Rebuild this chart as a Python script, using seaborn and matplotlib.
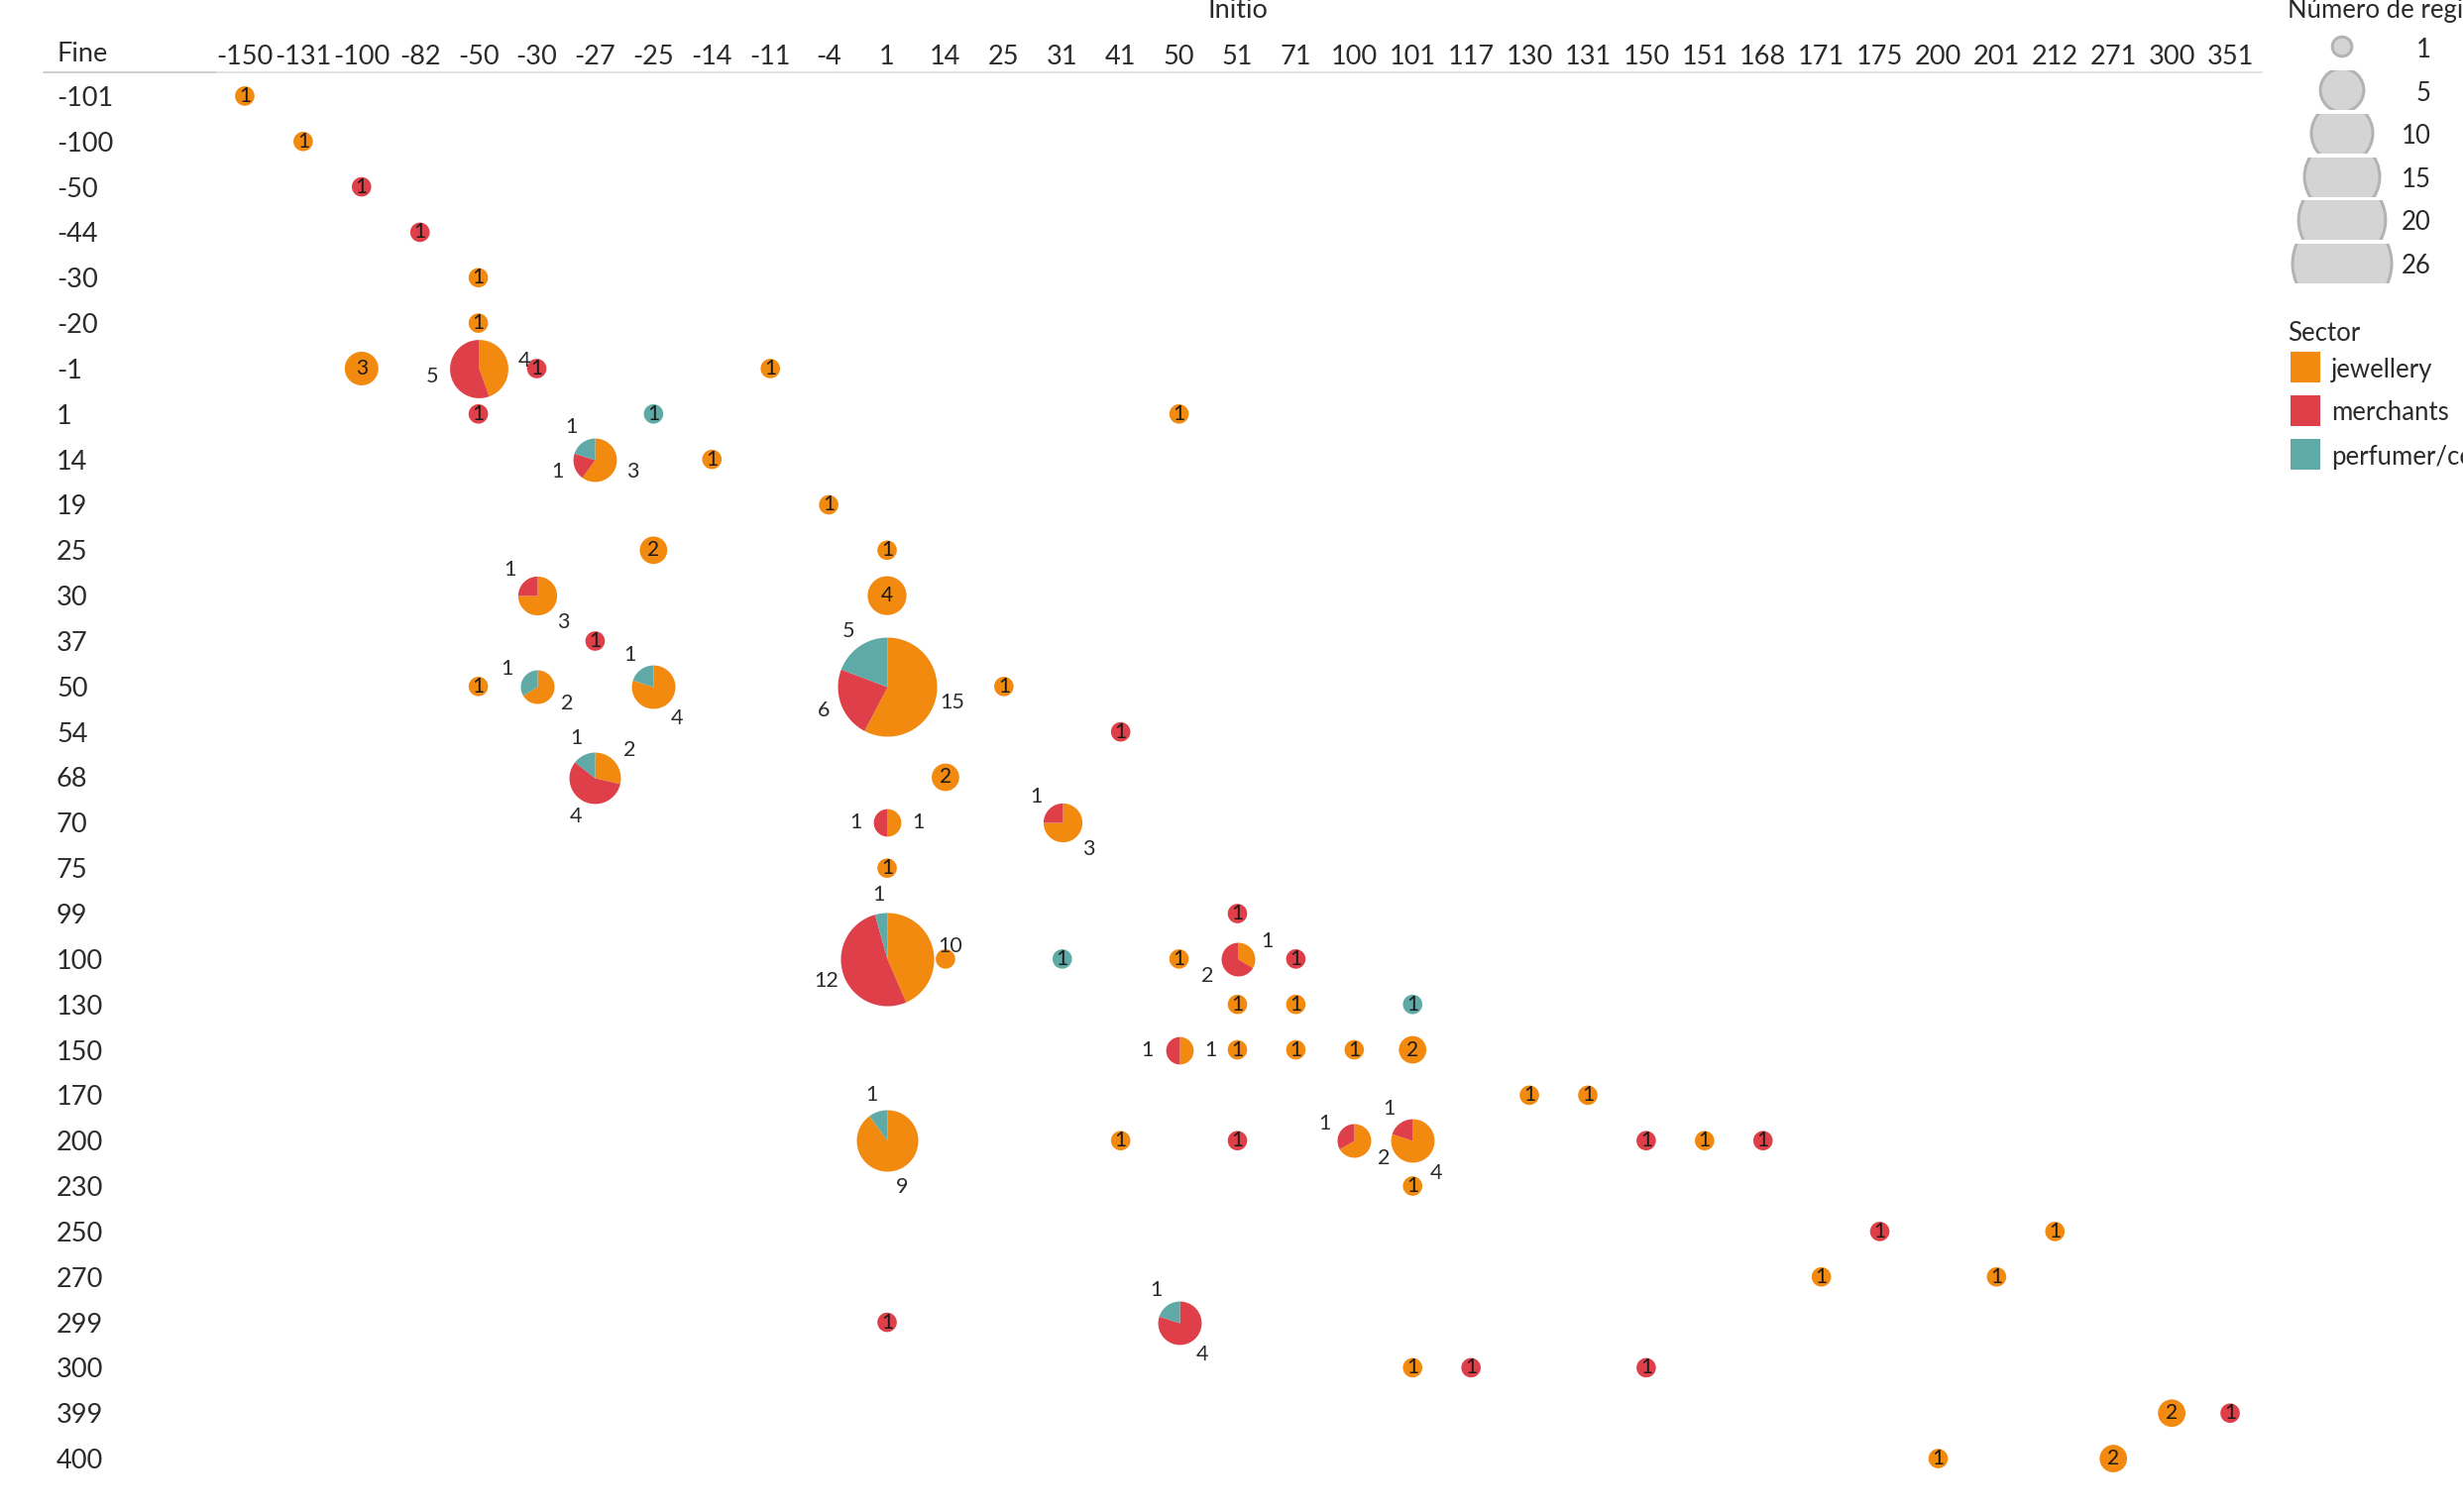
import numpy as np
import pandas as pd
import matplotlib
matplotlib.use("Agg")
import matplotlib.pyplot as plt
import seaborn as sns
from matplotlib.patches import Circle, Rectangle
from matplotlib.lines import Line2D
from matplotlib.transforms import IdentityTransform, Bbox

# --- data -------------------------------------------------------------
initio_levels = [-150, -131, -100, -82, -50, -30, -27, -25, -14, -11, -4, 1, 14, 25, 31, 41,
                 50, 51, 71, 100, 101, 117, 130, 131, 150, 151, 168, 171, 175, 200, 201, 212,
                 271, 300, 351]
fine_levels = [-101, -100, -50, -44, -30, -20, -1, 1, 14, 19, 25, 30, 37, 50, 54, 68, 70, 75,
               99, 100, 130, 150, 170, 200, 230, 250, 270, 299, 300, 399, 400]
sectors = ["jewellery", "merchants", "perfumer/cosmetics"]
sector_codes = {"J": "jewellery", "M": "merchants", "P": "perfumer/cosmetics"}

rec_fine = [-101, -100, -50, -44, -30, -20,
            -1, -1, -1, -1, -1,
            1, 1, 1,
            14, 14, 14, 14,
            19, 25, 25,
            30, 30, 30, 37,
            50, 50, 50, 50, 50, 50, 50, 50, 50,
            54, 68, 68, 68, 68,
            70, 70, 70, 70, 75, 99,
            100, 100, 100, 100, 100, 100, 100, 100, 100,
            130, 130, 130,
            150, 150, 150, 150, 150, 150,
            170, 170,
            200, 200, 200, 200, 200, 200, 200, 200, 200, 200, 200,
            230, 250, 250, 270, 270,
            299, 299, 299,
            300, 300, 300,
            399, 399, 400, 400]
rec_initio = [-150, -131, -100, -82, -50, -50,
              -100, -50, -50, -30, -11,
              -50, -25, 50,
              -27, -27, -27, -14,
              -4, -25, 1,
              -30, -30, 1, -27,
              -50, -30, -30, -25, -25, 1, 1, 1, 25,
              41, -27, -27, -27, 14,
              1, 1, 31, 31, 1, 51,
              1, 1, 1, 14, 31, 50, 51, 51, 71,
              51, 71, 101,
              50, 50, 51, 71, 100, 101,
              130, 131,
              1, 1, 41, 51, 100, 100, 101, 101, 150, 151, 168,
              101, 175, 212, 171, 201,
              1, 50, 50,
              101, 117, 150,
              300, 351, 200, 271]
rec_sector = ["J", "J", "M", "M", "J", "J",
              "J", "J", "M", "M", "J",
              "M", "P", "J",
              "J", "M", "P", "J",
              "J", "J", "J",
              "J", "M", "J", "M",
              "J", "J", "P", "J", "P", "J", "M", "P", "J",
              "M", "J", "M", "P", "J",
              "J", "M", "J", "M", "J", "M",
              "J", "M", "P", "J", "P", "J", "J", "M", "M",
              "J", "J", "P",
              "J", "M", "J", "J", "J", "J",
              "J", "J",
              "J", "P", "J", "M", "J", "M", "J", "M", "M", "J", "M",
              "J", "M", "J", "J", "J",
              "M", "M", "P",
              "J", "M", "M",
              "J", "M", "J", "J"]
rec_count = [1, 1, 1, 1, 1, 1,
             3, 4, 5, 1, 1,
             1, 1, 1,
             3, 1, 1, 1,
             1, 2, 1,
             3, 1, 4, 1,
             1, 2, 1, 4, 1, 15, 6, 5, 1,
             1, 2, 4, 1, 2,
             1, 1, 3, 1, 1, 1,
             10, 12, 1, 1, 1, 1, 1, 2, 1,
             1, 1, 1,
             1, 1, 1, 1, 1, 2,
             1, 1,
             9, 1, 1, 1, 2, 1, 4, 1, 1, 1, 1,
             1, 1, 1, 1, 1,
             1, 4, 1,
             1, 1, 1,
             2, 1, 1, 2]
# label that Tableau hid because it collided with a neighbour (fine, initio)
hidden_labels = [(100, 14)]

legend_sizes = [1, 5, 10, 15, 20, 26]

palette = {"jewellery": "#F28A10", "merchants": "#DE3F48", "perfumer/cosmetics": "#5FAAA6"}

# --- setup ------------------------------------------------------------
W, H, DPI = 2485, 1526, 100
PX = 72 / DPI          # points per pixel
N_MAX = 26
D_MAX = 100            # pixel diameter of the largest pie

sns.set_theme(style="white")
plt.rcParams['font.family'] = ['Lato', 'DejaVu Sans']
TXT = "#2b2b2b"

df = pd.DataFrame({"Fine": rec_fine, "Initio": rec_initio,
                   "Sector": [sector_codes[c] for c in rec_sector], "n": rec_count})
df["xi"] = df["Initio"].map({v: i for i, v in enumerate(initio_levels)})
df["yi"] = df["Fine"].map({v: i for i, v in enumerate(fine_levels)})
df["tot"] = df.groupby(["Fine", "Initio"])["n"].transform("sum")


def diam_px(n):
    return D_MAX * np.sqrt(n / N_MAX)


fig = plt.figure(figsize=(W / DPI, H / DPI), dpi=DPI)
ax = fig.add_axes([217.5 / W, 1 - 1495 / H, 2062 / W, 1421 / H])
ax.set_xlim(-0.5, len(initio_levels) - 0.5)
ax.set_ylim(len(fine_levels) - 0.5, -0.5)

# single-sector circles
singles = df[df["n"] == df["tot"]]
s1 = (diam_px(1) * PX) ** 2
sns.scatterplot(data=singles, x="xi", y="yi", hue="Sector", palette=palette,
                size="n", sizes=(s1, s1 * N_MAX), size_norm=(1, N_MAX),
                linewidth=0, edgecolor="none", legend=False, ax=ax, zorder=3)
for _, r in singles.iterrows():
    if (r["Fine"], r["Initio"]) in hidden_labels:
        continue
    ax.text(r["xi"], r["yi"], str(r["n"]), ha="center", va="center",
            fontsize=15, color="#1a1a1a", zorder=5)

# pies: start at 12 o'clock, clockwise, in sector order
pies = df[df["n"] < df["tot"]]
for (fine, ini), g in pies.groupby(["Fine", "Initio"]):
    g = g.set_index("Sector").reindex([s for s in sectors if s in set(g["Sector"])])
    tot = g["n"].sum()
    d = diam_px(tot)
    start = 0.0
    for sec, row in g.iterrows():
        frac = row["n"] / tot
        t = np.linspace(np.pi / 2 - 2 * np.pi * start, np.pi / 2 - 2 * np.pi * (start + frac), 80)
        verts = np.column_stack([np.r_[0, np.cos(t), 0], np.r_[0, np.sin(t), 0]])
        rs = np.abs(verts).max()
        ax.scatter([row["xi"]], [row["yi"]], marker=verts, s=(d * PX * rs) ** 2,
                   color=palette[sec], linewidth=0, zorder=3)
        mid = np.pi / 2 - 2 * np.pi * (start + frac / 2)
        off = d / 2 + 18
        ax.annotate(str(int(row["n"])), xy=(row["xi"], row["yi"]),
                    xytext=(off * np.cos(mid) * PX, off * np.sin(mid) * PX),
                    textcoords="offset points", ha="center", va="center",
                    fontsize=15.5, color=TXT, zorder=5)
        start += frac

# axes / headers
ax.xaxis.tick_top()
ax.set_xticks(range(len(initio_levels)))
ax.set_xticklabels([str(v) for v in initio_levels], fontsize=19.5, color=TXT)
ax.set_yticks(range(len(fine_levels)))
ax.set_yticklabels([str(v) for v in fine_levels], fontsize=19.5, color=TXT, ha="left")
ax.tick_params(axis="x", length=0, pad=3)
ax.tick_params(axis="y", length=0, pad=(217.5 - 57) * PX)
ax.set_xlabel("")
ax.set_ylabel("")
for sp in ax.spines.values():
    sp.set_visible(False)

fig.text(57 / W, 1 - 54 / H, "Fine", fontsize=19.5, color=TXT, va="center", ha="left")
fig.text(1249 / W, 1 - 18 / H, "Initio", fontsize=19.5, color=TXT, va="baseline", ha="center")
fig.add_artist(Line2D([44 / W, 219 / W], [1 - 73 / H] * 2, color="#cfcfcf", lw=2 * PX))
fig.add_artist(Line2D([219 / W, 2282 / W], [1 - 73 / H] * 2, color="#e2e2e2", lw=2 * PX))

# size legend (text runs off the right edge, as in the reference)
fig.text(2308 / W, 1 - 18 / H, "Número de registros", fontsize=18.5, color=TXT,
         va="baseline", ha="left")
band_c = [47, 91, 134.5, 178.5, 222, 266]
for n, cy in zip(legend_sizes, band_c):
    yc = H - cy
    c = Circle((2363, yc), diam_px(n) / 2, transform=IdentityTransform(),
               facecolor="#d4d4d4", edgecolor="#b3b3b3", lw=3 * PX)
    fig.add_artist(c)
    c.set_clip_box(Bbox.from_extents(2280, yc - 20, 2460, yc + 20))
    c.set_clip_on(True)
    fig.text(2453 / W, (yc - 3) / H, str(n), fontsize=18.5, color=TXT, ha="right", va="center")

# colour legend
fig.text(2308 / W, 1 - 336 / H, "Sector", fontsize=18.5, color=TXT, va="center", ha="left")
for sec, cy in zip(sectors, [370, 414, 458]):
    fig.add_artist(Rectangle((2311, H - cy - 15.5), 30, 31, transform=IdentityTransform(),
                             facecolor=palette[sec], edgecolor="none"))
    fig.text(2352 / W, 1 - (cy + 3) / H, sec, fontsize=18.5, color=TXT, va="center", ha="left")

fig.savefig("out.png", dpi=DPI, facecolor="white")
